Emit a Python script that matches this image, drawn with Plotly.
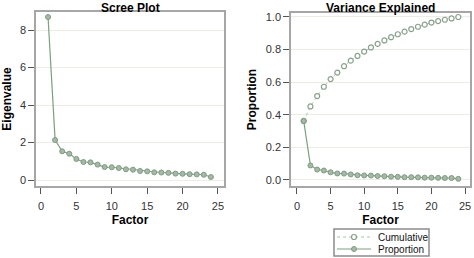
import plotly.graph_objects as go

factors = list(range(1, 25))
eigenvalues = [8.69, 2.13, 1.53, 1.40, 1.12, 0.96, 0.94, 0.82, 0.69, 0.68, 0.64, 0.57,
               0.55, 0.48, 0.46, 0.41, 0.40, 0.38, 0.34, 0.33, 0.31, 0.30, 0.28, 0.16]
proportion = [0.362, 0.089, 0.064, 0.058, 0.047, 0.040, 0.039, 0.034, 0.029, 0.028, 0.027, 0.024,
              0.023, 0.020, 0.019, 0.017, 0.017, 0.016, 0.014, 0.014, 0.013, 0.012, 0.012, 0.007]
cumulative = [0.362, 0.451, 0.515, 0.572, 0.619, 0.659, 0.698, 0.732, 0.761, 0.788, 0.813, 0.835,
              0.856, 0.876, 0.894, 0.910, 0.926, 0.940, 0.953, 0.966, 0.975, 0.983, 0.991, 1.000]
x_ticks = [0, 5, 10, 15, 20, 25]
y1_ticks = [0, 2, 4, 6, 8]
y2_ticks = [0.0, 0.2, 0.4, 0.6, 0.8, 1.0]
legend_labels = ["Cumulative", "Proportion"]

LINE = "#7c9f7f"
FILL = "#a5b9a6"
EDGE = "#7f9b82"
CUM_LINE = "#a9c3ab"
CUM_EDGE = "#8aa08d"
FONT = "Liberation Sans, Arial, sans-serif"

W, H = 474, 258

fig = go.Figure()
fig.add_trace(go.Scatter(
    x=factors, y=eigenvalues, mode="lines+markers", xaxis="x", yaxis="y",
    line=dict(color=LINE, width=1.2),
    marker=dict(size=5, color=FILL, line=dict(color=EDGE, width=1)),
    showlegend=False))
fig.add_trace(go.Scatter(
    x=factors, y=cumulative, mode="lines+markers", xaxis="x2", yaxis="y2",
    name=legend_labels[0],
    line=dict(color=CUM_LINE, width=1, dash="dot"),
    marker=dict(size=5, color="white", line=dict(color=CUM_EDGE, width=1.2)),
    showlegend=False))
fig.add_trace(go.Scatter(
    x=factors, y=proportion, mode="lines+markers", xaxis="x2", yaxis="y2",
    name=legend_labels[1],
    line=dict(color=LINE, width=1.2),
    marker=dict(size=5, color=FILL, line=dict(color=EDGE, width=1)),
    showlegend=False))

axis_common = dict(
    showline=True, mirror=True, linecolor="#a6a6a6", linewidth=1.5,
    ticks="outside", ticklen=6, tickcolor="#555555", tickwidth=1,
    tickfont=dict(size=11, color="#333333", family=FONT),
    zeroline=False, automargin=False,
)

def px(x):
    return x / W

def py(y):
    return 1 - y / H

# manual key box
shapes = [
    dict(type="rect", xref="paper", yref="paper", x0=px(334), x1=px(429), y0=py(256), y1=py(229),
         line=dict(color="#8c8c8c", width=1.5), fillcolor="white"),
    dict(type="line", xref="paper", yref="paper", x0=px(337), x1=px(371), y0=py(237), y1=py(237),
         line=dict(color=CUM_LINE, width=1, dash="dot")),
    dict(type="circle", xref="paper", yref="paper", x0=px(351.5), x1=px(356.5), y0=py(239.5), y1=py(234.5),
         line=dict(color=CUM_EDGE, width=1.2), fillcolor="white"),
    dict(type="line", xref="paper", yref="paper", x0=px(337), x1=px(371), y0=py(249), y1=py(249),
         line=dict(color=LINE, width=1.2)),
    dict(type="circle", xref="paper", yref="paper", x0=px(351.5), x1=px(356.5), y0=py(251.5), y1=py(246.5),
         line=dict(color=EDGE, width=1), fillcolor=FILL),
]

annotations = [
    dict(text="<b>Scree Plot</b>", x=130/W, y=1+1/H, xref="paper", yref="paper",
         xanchor="center", yanchor="top", showarrow=False, font=dict(size=12)),
    dict(text="<b>Variance Explained</b>", x=380/W, y=1+1/H, xref="paper", yref="paper",
         xanchor="center", yanchor="top", showarrow=False, font=dict(size=12)),
    dict(text=legend_labels[0], x=px(377), y=py(237), xref="paper", yref="paper",
         xanchor="left", yanchor="middle", showarrow=False, borderpad=0,
         font=dict(size=10, color="#111111")),
    dict(text=legend_labels[1], x=px(377), y=py(249), xref="paper", yref="paper",
         xanchor="left", yanchor="middle", showarrow=False, borderpad=0,
         font=dict(size=10, color="#111111")),
]

fig.update_layout(
    width=W, height=H,
    margin=dict(l=0, r=0, t=0, b=0),
    paper_bgcolor="white", plot_bgcolor="white",
    font=dict(family=FONT, color="#000000"),
    showlegend=False,
    xaxis=dict(domain=[36/W, 224/W], anchor="y", range=[-0.7, 25.85],
               tickvals=x_ticks, showgrid=False, ticklabelstandoff=3,
               title=dict(text="<b>Factor</b>", font=dict(size=12), standoff=5),
               **axis_common),
    yaxis=dict(domain=[1-186/H, 1-12/H], anchor="x", range=[-0.32, 8.96],
               tickvals=y1_ticks, showgrid=True, gridcolor="#eceee4", gridwidth=1,
               title=dict(text="<b>Eigenvalue</b>", font=dict(size=12), standoff=11),
               **axis_common),
    xaxis2=dict(domain=[291/W, 470/W], anchor="y2", range=[-0.89, 25.74],
                tickvals=x_ticks, showgrid=False, ticklabelstandoff=3,
                title=dict(text="<b>Factor</b>", font=dict(size=12), standoff=5),
                **axis_common),
    yaxis2=dict(domain=[1-186/H, 1-13/H], anchor="x2", range=[-0.037, 1.0245],
                tickvals=y2_ticks, tickformat=".1f", showgrid=True, gridcolor="#eceee4", gridwidth=1,
                title=dict(text="<b>Proportion</b>", font=dict(size=12), standoff=7),
                **axis_common),
    shapes=shapes,
    annotations=annotations,
)

fig.write_html("out.html")
